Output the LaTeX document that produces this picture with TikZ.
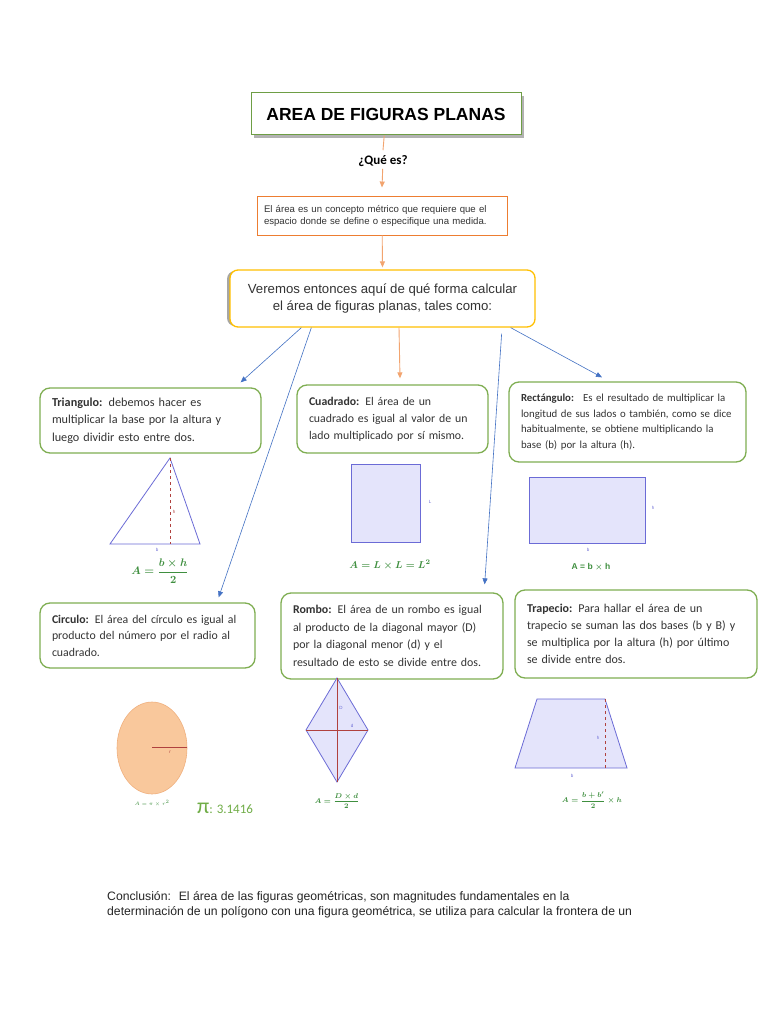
\documentclass[tikz,border=0pt]{standalone}
\usepackage{amsmath}
\usepackage{fontspec}
\setmainfont{Liberation Sans}
\newfontfamily\calibri{Carlito}
\usetikzlibrary{arrows.meta,positioning}

\definecolor{boxgreen}{HTML}{7FAE52}
\definecolor{titgreen}{HTML}{6E9E45}
\definecolor{lineorange}{HTML}{ED7D31}
\definecolor{arrowblue}{HTML}{4472C4}
\definecolor{boxgold}{HTML}{FFC000}
\definecolor{figblue}{HTML}{6B6BD6}
\definecolor{figfill}{HTML}{E4E4FB}
\definecolor{hred}{HTML}{B0413E}
\definecolor{formgreen}{HTML}{3F8F3F}
\definecolor{pigreen}{HTML}{70AD47}
\definecolor{circfill}{HTML}{F9C89C}
\definecolor{circedge}{HTML}{F0B07E}

\begin{document}
\begin{tikzpicture}[x=1pt,y=-1pt,>={Triangle[width=5pt,length=6pt]},
    infobox/.style={draw=boxgreen,line width=1.3pt,rounded corners=10pt,fill=white,
        align=left,inner xsep=12pt,inner ysep=0pt,text=black!80},
    orangeline/.style={draw=lineorange!70,line width=0.9pt},
    blueline/.style={draw=arrowblue,line width=0.6pt},
    figshape/.style={draw=figblue,line width=0.8pt,fill=figfill},
    heightline/.style={draw=hred,line width=0.8pt,dashed},
    diagline/.style={draw=hred,line width=0.8pt},
    smalllabel/.style={font=\fontsize{4.5}{5}\selectfont,inner sep=0pt},
    formtext/.style={text=formgreen,inner sep=0pt}]
    \useasboundingbox[fill=white] (0,0) rectangle (768,1024);

    % top of the chart
    \fill[black!30] (254,96) rectangle (524,138);
    \node[draw=titgreen,line width=1pt,fill=white,minimum width=270pt,minimum height=42pt,
        font=\bfseries\fontsize{17.5}{20}\selectfont] (title) at (386,114) {AREA DE FIGURAS PLANAS};
    \node[font=\calibri\bfseries\fontsize{13}{15}\selectfont,inner sep=2pt] (que) at (383,161) {¿Qué es?};
    \node[draw=lineorange,line width=0.9pt,minimum width=250pt,minimum height=39pt,align=left,
        text width=236pt,inner xsep=7pt,font=\fontsize{9.6}{12}\selectfont,text=black!80] (def) at (382,215.5)
        {El área es un concepto métrico que requiere que el\\espacio donde se define o especifique una medida.};
    \fill[black!35,rounded corners=8pt] (227,271) rectangle (532,326);
    \node[draw=boxgold,line width=1.3pt,rounded corners=8pt,fill=white,minimum width=305pt,minimum height=57pt,
        align=center,font=\fontsize{13.2}{17.5}\selectfont,text=black!80] (main) at (382.5,298.5)
        {Veremos entonces aquí de qué forma calcular\\el área de figuras planas, tales como:};

    % boxes of the figures
    \node[infobox,text width=197pt,minimum height=65pt,font=\calibri\fontsize{12.2}{17.5}\selectfont] (tri) at (150.5,420.5)
        {\textbf{Triangulo:} debemos hacer es\\multiplicar la base por la altura y\\luego dividir esto entre dos.};
    \node[infobox,text width=167pt,minimum height=68pt,font=\calibri\fontsize{11.8}{17}\selectfont] (cuad) at (392.5,419)
        {\textbf{Cuadrado:} El área de un\\cuadrado es igual al valor de un\\lado multiplicado por sí mismo.};
    \node[infobox,text width=213pt,minimum height=80pt,font=\calibri\fontsize{10.8}{15.5}\selectfont] (rect) at (627.5,422)
        {\textbf{Rectángulo:}~ Es el resultado de multiplicar la\\longitud de sus lados o también, como se dice\\habitualmente, se obtiene multiplicando la\\base (b) por la altura (h).};
    \node[infobox,text width=191pt,minimum height=65pt,font=\calibri\fontsize{11.8}{16.5}\selectfont] (circ) at (147.5,635.5)
        {\textbf{Circulo:} El área del círculo es igual al\\producto del número por el radio al\\cuadrado.};
    \node[infobox,text width=198pt,minimum height=86pt,font=\calibri\fontsize{11.9}{17.5}\selectfont] (rombo) at (392,636)
        {\textbf{Rombo:} El área de un rombo es igual\\al producto de la diagonal mayor (D)\\por la diagonal menor (d) y el\\resultado de esto se divide entre dos.};
    \node[infobox,text width=218pt,minimum height=88pt,font=\calibri\fontsize{12}{17}\selectfont] (trap) at (636,634)
        {\textbf{Trapecio:} Para hallar el área de un\\trapecio se suman las dos bases (b y B) y\\se multiplica por la altura (h) por último\\se divide entre dos.};

    % connectors
    \draw[orangeline] (title) -- ([yshift=3pt]que.north);
    \draw[orangeline,->] (que) -- ([yshift=8pt]def.north);
    \draw[orangeline,->] (def) -- ([yshift=2pt]main.north);
    \draw[blueline,->] ([xshift=72pt]main.south west) -- ([xshift=-21pt,yshift=5pt]tri.north east);
    \draw[blueline,->] ([xshift=82pt]main.south west) -- ([xshift=-37pt,yshift=5pt]circ.north east);
    \draw[orangeline,->] ([xshift=16.5pt]main.south) -- ([xshift=7.5pt,yshift=6pt]cuad.north);
    \draw[blueline,->] ([xshift=-34pt,yshift=-6pt]main.south east) -- ([xshift=-19pt,yshift=8pt]rombo.north east);
    \draw[blueline,->] ([xshift=-25pt]main.south east) -- ([xshift=-25.5pt,yshift=4pt]rect.north);

    % triangle
    \draw[figshape,fill=white] (110,544) -- (170,458) -- (200,544) -- cycle;
    \draw[heightline] (170,458) -- (170,544);
    \node[smalllabel,text=hred] at (174,512) {h};
    \node[smalllabel,text=figblue] at (157,550) {b};
    \node[formtext,font=\fontsize{10.5}{12}\selectfont] (atri) at (160,571)
        {\ensuremath{\boldsymbol{A=\dfrac{b\times h}{2}}}};

    % square
    \draw[figshape] (351,464) rectangle (420,542);
    \node[smalllabel,text=figblue] at (430,502) {L};
    \node[formtext,font=\fontsize{10}{12}\selectfont] (acuad) at (390,565)
        {\ensuremath{\boldsymbol{A=L\times L=L^{2}}}};

    % rectangle
    \draw[figshape] (529,477) rectangle (645,543);
    \node[smalllabel,text=figblue] at (653,508) {h};
    \node[smalllabel,text=figblue] at (588,550) {b};
    \node[formtext,font=\bfseries\fontsize{8.5}{10}\selectfont] (arect) at (591,567)
        {A = b \ensuremath{\boldsymbol{\times}} h};

    % circle
    \draw[fill=circfill,draw=circedge,line width=0.6pt] (152,748) ellipse (35pt and 46pt);
    \draw[draw=hred,line width=0.8pt] (152,747) -- (187,747);
    \node[smalllabel,text=hred] at (170,752) {r};
    \node[formtext,font=\fontsize{5}{6}\selectfont] (acirc) at (152,803)
        {\ensuremath{A=\pi\times r^{2}}};
    \node[text=pigreen,inner sep=0pt,anchor=base west,font=\calibri\fontsize{22}{24}\selectfont] (pi) at (197,813)
        {π\fontsize{13}{15}\selectfont: 3.1416};

    % rhombus
    \draw[figshape] (337,678) -- (368,730) -- (337,782) -- (306,730) -- cycle;
    \draw[diagline] (337,678) -- (337,782);
    \draw[diagline] (306,730) -- (368,730);
    \node[smalllabel,text=figblue] at (341,708) {D};
    \node[smalllabel,text=figblue] at (352,726) {d};
    \node[formtext,font=\fontsize{7.5}{9}\selectfont] (arombo) at (337,801)
        {\ensuremath{\boldsymbol{A=\dfrac{D\times d}{2}}}};

    % trapezoid
    \draw[figshape] (537,699) -- (605,699) -- (627,768) -- (515,768) -- cycle;
    \draw[heightline] (605,699) -- (605,768);
    \node[smalllabel,text=figblue] at (598,738) {h};
    \node[smalllabel,text=figblue] at (572,776) {b};
    \node[formtext,font=\fontsize{7.5}{9}\selectfont] (atrap) at (592,800)
        {\ensuremath{\boldsymbol{A=\dfrac{b+b'}{2}\times h}}};

    % conclusion
    \node[anchor=north west,align=left,inner sep=0pt,font=\fontsize{12.2}{15}\selectfont,text=black!85] (concl) at (107,891)
        {Conclusión:~ El área de las figuras geométricas, son magnitudes fundamentales en la\\determinación de un polígono con una figura geométrica, se utiliza para calcular la frontera de un};
\end{tikzpicture}
\end{document}
